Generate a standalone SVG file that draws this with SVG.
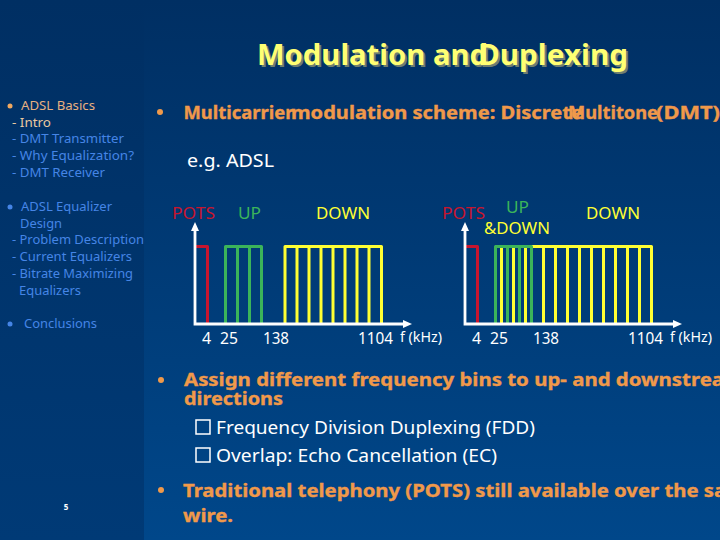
<svg xmlns="http://www.w3.org/2000/svg" width="720" height="540" viewBox="0 0 720 540">
<style>
text{font-family:"Noto Sans","DejaVu Sans",sans-serif}
.nav{font-size:13px;fill:#4585e6}
.h{font-family:"Noto Sans","DejaVu Sans",sans-serif;font-weight:bold;font-size:18.5px;fill:#f0994a;stroke:#f0994a;stroke-width:.35}
.w{font-size:18.500px;fill:#fff}
.lab{font-size:16.500px}
.tick{font-size:16px;fill:#fff}
.f{font-size:13.500px;fill:#fff}
.t{font-weight:bold;font-size:28px}
.ax{stroke:#fff;stroke-width:2.800;fill:none}
.r{stroke:#c8152e;stroke-width:3;fill:none;stroke-linejoin:round}
.g{stroke:#3bb45a;stroke-width:3;fill:none;stroke-linejoin:round}
.y{stroke:#ffff33;stroke-width:3;fill:none;stroke-linejoin:round}
</style>
<defs>
<linearGradient id="bg" x1="0" y1="0" x2="0" y2="1"><stop offset="0" stop-color="#002f63"/><stop offset="1" stop-color="#00478a"/></linearGradient>
<linearGradient id="side" x1="0" y1="0" x2="0" y2="1"><stop offset="0" stop-color="#002f63"/><stop offset="1" stop-color="#003a76"/></linearGradient>
</defs>
<rect width="720" height="540" fill="url(#bg)"/>
<rect width="144" height="540" fill="url(#side)"/>
<g id="title">
<text class="t" x="259" y="67" fill="#6f7f70" textLength="231" lengthAdjust="spacingAndGlyphs">Modulation and</text>
<text class="t" x="480" y="67" fill="#6f7f70" textLength="150" lengthAdjust="spacingAndGlyphs">Duplexing</text>
<text class="t" x="257" y="65" fill="#ffff73" textLength="231" lengthAdjust="spacingAndGlyphs">Modulation and</text>
<text class="t" x="478" y="65" fill="#ffff73" textLength="150" lengthAdjust="spacingAndGlyphs">Duplexing</text>
</g>
<g id="nav">
<circle cx="10" cy="106" r="2.500" fill="#f0a860"/>
<text class="nav" x="21" y="110" style="fill:#e8b080" textLength="74" lengthAdjust="spacingAndGlyphs">ADSL Basics</text>
<text class="nav" x="12" y="127" style="fill:#e8c8a0" textLength="39" lengthAdjust="spacingAndGlyphs">- Intro</text>
<text class="nav" x="12" y="143" textLength="112" lengthAdjust="spacingAndGlyphs">- DMT Transmitter</text>
<text class="nav" x="12" y="160" textLength="122" lengthAdjust="spacingAndGlyphs">- Why Equalization?</text>
<text class="nav" x="12" y="177" textLength="93" lengthAdjust="spacingAndGlyphs">- DMT Receiver</text>
<circle cx="10" cy="207" r="2.500" fill="#4585e6"/>
<text class="nav" x="21" y="211" textLength="91" lengthAdjust="spacingAndGlyphs">ADSL Equalizer</text>
<text class="nav" x="20" y="228" textLength="42" lengthAdjust="spacingAndGlyphs">Design</text>
<text class="nav" x="12" y="244" textLength="132" lengthAdjust="spacingAndGlyphs">- Problem Description</text>
<text class="nav" x="12" y="261" textLength="120" lengthAdjust="spacingAndGlyphs">- Current Equalizers</text>
<text class="nav" x="12" y="278" textLength="121" lengthAdjust="spacingAndGlyphs">- Bitrate Maximizing</text>
<text class="nav" x="19" y="295" textLength="62" lengthAdjust="spacingAndGlyphs">Equalizers</text>
<circle cx="10" cy="324" r="2.500" fill="#4585e6"/>
<text class="nav" x="24" y="328" textLength="73" lengthAdjust="spacingAndGlyphs">Conclusions</text>
<text x="66" y="510" font-size="8" fill="#fff" font-weight="bold" text-anchor="middle">5</text>
</g>
<g id="bullet-1">
<circle cx="160" cy="112" r="3" fill="#f0994a"/>
<text class="h" x="183.500" y="119" textLength="110" lengthAdjust="spacingAndGlyphs">Multicarrier</text>
<text class="h" x="291" y="119" textLength="292" lengthAdjust="spacingAndGlyphs">modulation scheme: Discrete</text>
<text class="h" x="568" y="119" textLength="90" lengthAdjust="spacingAndGlyphs">Multitone</text>
<text class="h" x="656" y="119" textLength="64" lengthAdjust="spacingAndGlyphs">(DMT)</text>
<text class="w" x="187" y="167" textLength="87" lengthAdjust="spacingAndGlyphs">e.g. ADSL</text>
</g>
<g id="chart-1-labels">
<text class="lab" x="172" y="219" fill="#c8152e" textLength="43" lengthAdjust="spacingAndGlyphs">POTS</text>
<text class="lab" x="238" y="219" fill="#3bb45a" textLength="23" lengthAdjust="spacingAndGlyphs">UP</text>
<text class="lab" x="316" y="219" fill="#ffff33" textLength="54" lengthAdjust="spacingAndGlyphs">DOWN</text>
<text class="tick" x="202" y="344">4</text>
<text class="tick" x="220" y="344" textLength="18" lengthAdjust="spacingAndGlyphs">25</text>
<text class="tick" x="263" y="344" textLength="26" lengthAdjust="spacingAndGlyphs">138</text>
<text class="tick" x="358" y="344" textLength="35" lengthAdjust="spacingAndGlyphs">1104</text>
<text class="f" x="400" y="342" textLength="42" lengthAdjust="spacingAndGlyphs">f (kHz)</text>
</g>
<g id="chart-2-labels">
<text class="lab" x="442" y="219" fill="#c8152e" textLength="43" lengthAdjust="spacingAndGlyphs">POTS</text>
<text class="lab" x="506" y="213" fill="#3bb45a" textLength="23" lengthAdjust="spacingAndGlyphs">UP</text>
<text class="lab" x="484" y="234" fill="#ffff33" textLength="66" lengthAdjust="spacingAndGlyphs">&amp;DOWN</text>
<text class="lab" x="586" y="219" fill="#ffff33" textLength="54" lengthAdjust="spacingAndGlyphs">DOWN</text>
<text class="tick" x="472" y="344">4</text>
<text class="tick" x="490" y="344" textLength="18" lengthAdjust="spacingAndGlyphs">25</text>
<text class="tick" x="533" y="344" textLength="26" lengthAdjust="spacingAndGlyphs">138</text>
<text class="tick" x="628" y="344" textLength="35" lengthAdjust="spacingAndGlyphs">1104</text>
<text class="f" x="670" y="342" textLength="42" lengthAdjust="spacingAndGlyphs">f (kHz)</text>
</g>
<g id="connectors">
<path class="y" d="M285 324V246.500H381.500V324M297 246.500V324M309 246.500V324M321 246.500V324M333 246.500V324M345 246.500V324M357 246.500V324M369 246.500V324"/>
<path class="g" d="M225.500 324V246.500H261.500V324M237.500 246.500V324M249.500 246.500V324"/>
<path class="r" d="M195 246.500H207.500V324"/>
<path class="ax" d="M195 230V324H405"/>
<path d="M195 222l-4 9h8zM412 324l-9-4v8z" fill="#fff"/>
<path class="y" d="M495.500 246.500H651.500V324M501.500 246.500V324M513.500 246.500V324M525.500 246.500V324M543.500 246.500V324M555.500 246.500V324M567.500 246.500V324M579.500 246.500V324M591.500 246.500V324M603.500 246.500V324M615.500 246.500V324M627.500 246.500V324M639.500 246.500V324"/>
<path class="g" d="M495.500 324V246.500H531.500V324M507.500 246.500V324M519.500 246.500V324"/>
<path class="r" d="M465 246.500H477.500V324"/>
<path class="ax" d="M465 230V324H675"/>
<path d="M465 222l-4 9h8zM682 324l-9-4v8z" fill="#fff"/>
</g>
<g id="bullet-2">
<circle cx="161" cy="380" r="3" fill="#f0994a"/>
<text class="h" x="184" y="386" textLength="560" lengthAdjust="spacingAndGlyphs">Assign different frequency bins to up- and downstream</text>
<text class="h" x="184" y="405" textLength="99" lengthAdjust="spacingAndGlyphs">directions</text>
<rect x="196" y="420" width="14" height="14" fill="none" stroke="#fff" stroke-width="1.500"/>
<text class="w" x="216" y="434" textLength="319" lengthAdjust="spacingAndGlyphs">Frequency Division Duplexing (FDD)</text>
<rect x="196" y="448" width="14" height="14" fill="none" stroke="#fff" stroke-width="1.500"/>
<text class="w" x="216" y="462" textLength="281" lengthAdjust="spacingAndGlyphs">Overlap: Echo Cancellation (EC)</text>
</g>
<g id="bullet-3">
<circle cx="161" cy="490" r="3" fill="#f0994a"/>
<text class="h" x="183" y="497" textLength="575" lengthAdjust="spacingAndGlyphs">Traditional telephony (POTS) still available over the same</text>
<text class="h" x="183" y="522" textLength="50" lengthAdjust="spacingAndGlyphs">wire.</text>
</g>
</svg>
